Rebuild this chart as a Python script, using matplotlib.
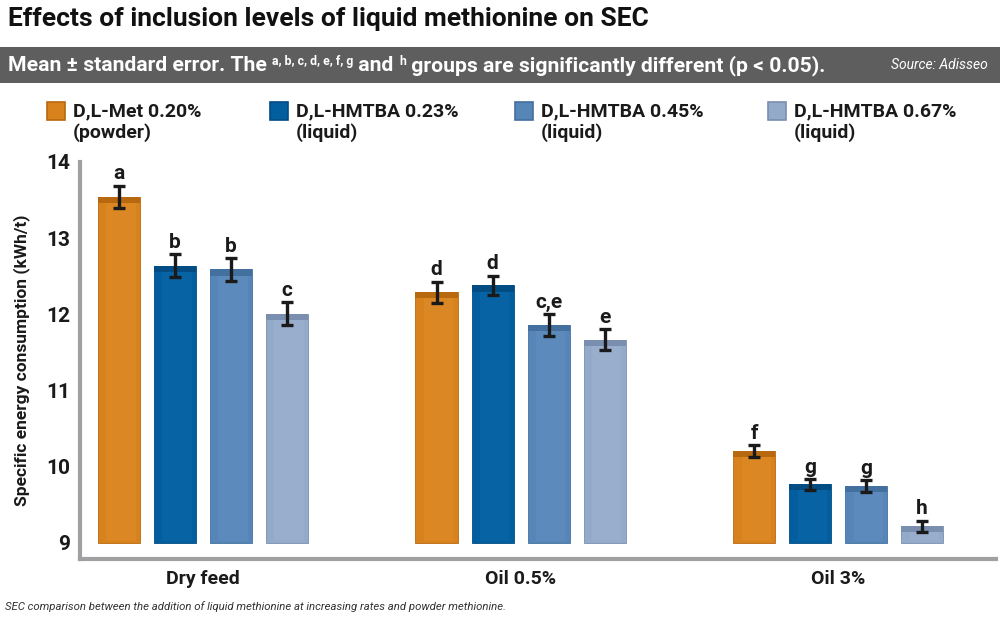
import numpy as np
import matplotlib
matplotlib.use("Agg")
from matplotlib import pyplot as plt
from matplotlib.patches import Rectangle

plt.rcParams["font.family"] = ["Roboto", "DejaVu Sans"]

groups = ["Dry feed", "Oil 0.5%", "Oil 3%"]
series = ["D,L-Met 0.20%\n(powder)", "D,L-HMTBA 0.23%\n(liquid)",
          "D,L-HMTBA 0.45%\n(liquid)", "D,L-HMTBA 0.67%\n(liquid)"]
# rows = groups, columns = series
means = [
    [13.54, 12.64, 12.59, 12.01],
    [12.29, 12.38, 11.86, 11.67],
    [10.21, 9.77, 9.75, 9.22],
]
ses = [
    [0.15, 0.15, 0.15, 0.15],
    [0.14, 0.13, 0.14, 0.135],
    [0.075, 0.07, 0.075, 0.075],
]
letters = [
    ["a", "b", "b", "c"],
    ["d", "d", "c,e", "e"],
    ["f", "g", "g", "h"],
]

colors = ["#d7821d", "#035ea0", "#5685b8", "#94aac9"]
caps = ["#b8680e", "#024c84", "#44709f", "#7a8fb0"]
lights = ["#e99a3a", "#1a74b6", "#6f9acb", "#a9bdd8"]

W, H = 1000, 619
fig = plt.figure(figsize=(W / 100, H / 100), dpi=100)
ax = fig.add_axes([80 / W, 1 - 559 / H, (996 - 80) / W, (559 - 162) / H])

spacing = 56 / 317.5
width = 42 / 317.5
for g, grp in enumerate(groups):
    for s in range(len(series)):
        x = g + (s - 1.5) * spacing
        m = means[g][s]
        e = ses[g][s]
        ax.bar(x, m - 9, bottom=9, width=width, color=colors[s], zorder=2,
               edgecolor=caps[s], linewidth=0.6)
        # lighter centre stripe for the bevelled look
        ax.bar(x + width * 0.05, m - 9 - 0.1, bottom=9.02, width=width * 0.7,
               color=lights[s], alpha=0.25, zorder=2.5, linewidth=0)
        # darker top band
        band = 0.08
        ax.bar(x, band, bottom=m - band, width=width, color=caps[s], zorder=3,
               linewidth=0)
        ax.errorbar(x, m, yerr=e, color="#1a1a1a", elinewidth=2.4, capsize=4,
                    capthick=2.4, zorder=4)
        ax.text(x, m + e + 0.03, letters[g][s], ha="center", va="bottom",
                fontsize=15, fontweight="bold", color="#1a1a1a", zorder=5)

ax.set_xlim(-0.387, 2.497)
ax.set_ylim(8.79, 14.0)
ax.set_yticks([9, 10, 11, 12, 13, 14])
ax.set_yticklabels(["9", "10", "11", "12", "13", "14"], fontsize=15,
                   fontweight="bold", color="#1a1a1a")
ax.tick_params(axis="y", length=0, pad=7)
ax.set_xticks([0, 1, 2])
ax.set_xticklabels(groups, fontsize=14, fontweight="bold", color="#1a1a1a")
ax.tick_params(axis="x", length=0, pad=8)
for side in ["top", "right"]:
    ax.spines[side].set_visible(False)
for side in ["left", "bottom"]:
    ax.spines[side].set_color("#a0a0a2")
    ax.spines[side].set_linewidth(3)
ax.set_ylabel("Specific energy consumption (kWh/t)", fontsize=12.5,
              fontweight="bold", color="#1a1a1a", labelpad=12)

# title
fig.text(8 / W, 1 - 19 / H, "Effects of inclusion levels of liquid methionine on SEC",
         fontsize=19, fontweight="bold", color="#111111", va="center")

# grey banner
fig.patches.append(Rectangle((0, 1 - 83 / H), 1, 36 / H, transform=fig.transFigure,
                             facecolor="#5f5e5f", edgecolor="none", zorder=0))

fig.canvas.draw()
renderer = fig.canvas.get_renderer()
parts = [
    ("Mean ± standard error. The ", 15.2, 0),
    ("a, b, c, d, e, f, g", 8.8, 6),
    (" and ", 15.2, 0),
    ("h", 8.8, 6),
    (" groups are significantly different (p < 0.05).", 15.2, 0),
]
xpix = 8
ybase = 1 - 71 / H
for txt, size, dy in parts:
    t = fig.text(xpix / W, ybase + dy / H, txt, fontsize=size, fontweight="bold",
                 color="white", va="baseline", ha="left")
    bb = t.get_window_extent(renderer)
    xpix = bb.x1
fig.text(988 / W, 1 - 65 / H, "Source: Adisseo", fontsize=10, style="italic",
         color="white", ha="right", va="center")

# legend
leg_x = [47, 270, 515, 768]
for s, lab in enumerate(series):
    fig.patches.append(Rectangle((leg_x[s] / W, 1 - 120 / H), 18 / W, 18 / H,
                                 transform=fig.transFigure, facecolor=colors[s],
                                 edgecolor=caps[s], linewidth=1.2))
    fig.text((leg_x[s] + 26) / W, 1 - 102 / H, lab, fontsize=14, fontweight="bold",
             color="#1a1a1a", va="top", ha="left", linespacing=1.2)

fig.text(5 / W, 1 - 607 / H,
         "SEC comparison between the addition of liquid methionine at increasing rates and powder methionine.",
         fontsize=8.2, style="italic", color="#333333", va="center")

fig.savefig("out.png", dpi=100)
